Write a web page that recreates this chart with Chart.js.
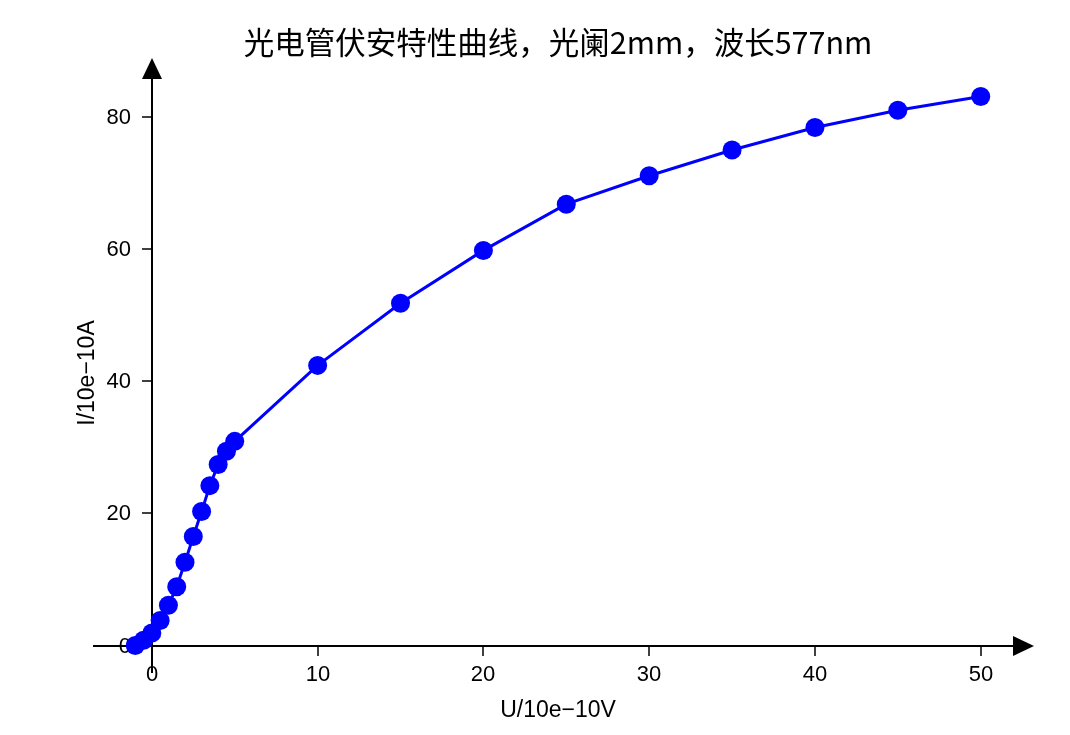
<!DOCTYPE html>
<html>
<head>
<meta charset="utf-8">
<title>光电管伏安特性曲线</title>
<script src="https://cdn.jsdelivr.net/npm/chart.js@4/dist/chart.umd.min.js"></script>
<style>
    html, body { margin: 0; padding: 0; background: #fff; }
    #chart { display: block; }
</style>
</head>
<body>
<canvas id="chart" width="1070" height="735"></canvas>
<script>
/*
 * Photocell I-U curve, aperture 2mm, wavelength 577nm
 **/

var voltage = [-1, -0.5, 0, 0.5, 1, 1.5, 2, 2.5, 3, 3.5, 4, 4.5, 5,
               10, 15, 20, 25, 30, 35, 40, 45, 50];
var current = [0, 0.8, 1.9, 3.8, 6.1, 8.9, 12.6, 16.5, 20.3, 24.2, 27.4, 29.4, 30.9,
               42.4, 51.8, 59.8, 66.8, 71.1, 75.0, 78.4, 81.0, 83.1];

var xTicks = [0, 10, 20, 30, 40, 50];
var yTicks = [0, 20, 40, 60, 80];

var titleText = '光电管伏安特性曲线，光阑2mm，波长577nm';
var xLabel = 'U/10e\u221210V';
var yLabel = 'I/10e\u221210A';

(function() {

    var tickFont = '22px "Liberation Sans", Arial, sans-serif';
    var labelFont = '23px "Liberation Sans", Arial, sans-serif';

    // matplotlib-like 5% margins around the data
    function padded(arr) {
	var lo = Math.min.apply(null, arr), hi = Math.max.apply(null, arr);
	var m = (hi - lo) * 0.05;
	return { min: lo - m, max: hi + m };
    }
    var xr = padded(voltage);
    var yr = padded(current);

    var points = voltage.map(function(v, i) {
	return { x: v, y: current[i] };
    });

    // spines through the origin, arrows, ticks and axis titles
    var centerAxes = {
	id: 'centerAxes',
	beforeDatasetsDraw: function(chart) {
	    var ctx = chart.ctx;
	    var area = chart.chartArea;
	    var xs = chart.scales.x, ys = chart.scales.y;
	    var x0 = Math.round(xs.getPixelForValue(0));
	    var y0 = Math.round(ys.getPixelForValue(0));

	    ctx.save();
	    ctx.strokeStyle = '#000';
	    ctx.fillStyle = '#000';
	    ctx.lineWidth = 2;

	    ctx.beginPath();
	    ctx.moveTo(area.left, y0);
	    ctx.lineTo(area.right, y0);
	    ctx.moveTo(x0, area.top);
	    ctx.lineTo(x0, area.bottom);
	    ctx.stroke();

	    ctx.lineWidth = 1.5;
	    ctx.font = tickFont;
	    ctx.textAlign = 'center';
	    ctx.textBaseline = 'middle';
	    xTicks.forEach(function(t) {
		var px = Math.round(xs.getPixelForValue(t));
		ctx.beginPath();
		ctx.moveTo(px, y0);
		ctx.lineTo(px, y0 + 10);
		ctx.stroke();
		ctx.fillText(String(t), px, y0 + 29);
	    });

	    ctx.textAlign = 'right';
	    yTicks.forEach(function(t) {
		var py = Math.round(ys.getPixelForValue(t));
		ctx.beginPath();
		ctx.moveTo(x0 - 10, py);
		ctx.lineTo(x0, py);
		ctx.stroke();
		ctx.fillText(String(t), x0 - 21, py + 1);
	    });

	    // arrow heads at the axes ends
	    ctx.beginPath();
	    ctx.moveTo(area.right - 10, y0 - 10);
	    ctx.lineTo(area.right + 11, y0);
	    ctx.lineTo(area.right - 10, y0 + 10);
	    ctx.closePath();
	    ctx.fill();

	    ctx.beginPath();
	    ctx.moveTo(x0 - 10, area.top + 10);
	    ctx.lineTo(x0, area.top - 11);
	    ctx.lineTo(x0 + 10, area.top + 10);
	    ctx.closePath();
	    ctx.fill();

	    ctx.font = labelFont;
	    ctx.textAlign = 'center';
	    ctx.fillText(xLabel, (area.left + area.right) / 2, 711);

	    ctx.translate(88, (area.top + area.bottom) / 2 + 2);
	    ctx.rotate(-Math.PI / 2);
	    ctx.fillText(yLabel, 0, 0);
	    ctx.restore();
	}
    };

    new Chart(document.getElementById('chart').getContext('2d'), {
	type: 'scatter',
	data: {
	    datasets: [{
		data: points,
		showLine: true,
		borderColor: '#0000ff',
		borderWidth: 3,
		backgroundColor: '#0000ff',
		pointRadius: 9.5,
		pointBorderWidth: 0,
		pointHoverRadius: 9.5,
		clip: false
	    }]
	},
	options: {
	    responsive: false,
	    animation: false,
	    devicePixelRatio: 1,
	    layout: {
		padding: { left: 93, right: 47, top: 0, bottom: 62 }
	    },
	    scales: {
		x: { type: 'linear', min: xr.min, max: xr.max, display: false },
		y: { type: 'linear', min: yr.min, max: yr.max, display: false }
	    },
	    plugins: {
		legend: { display: false },
		tooltip: { enabled: false },
		title: {
		    display: true,
		    text: titleText,
		    color: '#000',
		    font: { family: '"Noto Sans CJK SC", sans-serif', size: 30.5, weight: 'normal', lineHeight: 1.2 },
		    padding: { top: 24, bottom: 8.4 }
		}
	    }
	},
	plugins: [centerAxes]
    });

}());
</script>
</body>
</html>
